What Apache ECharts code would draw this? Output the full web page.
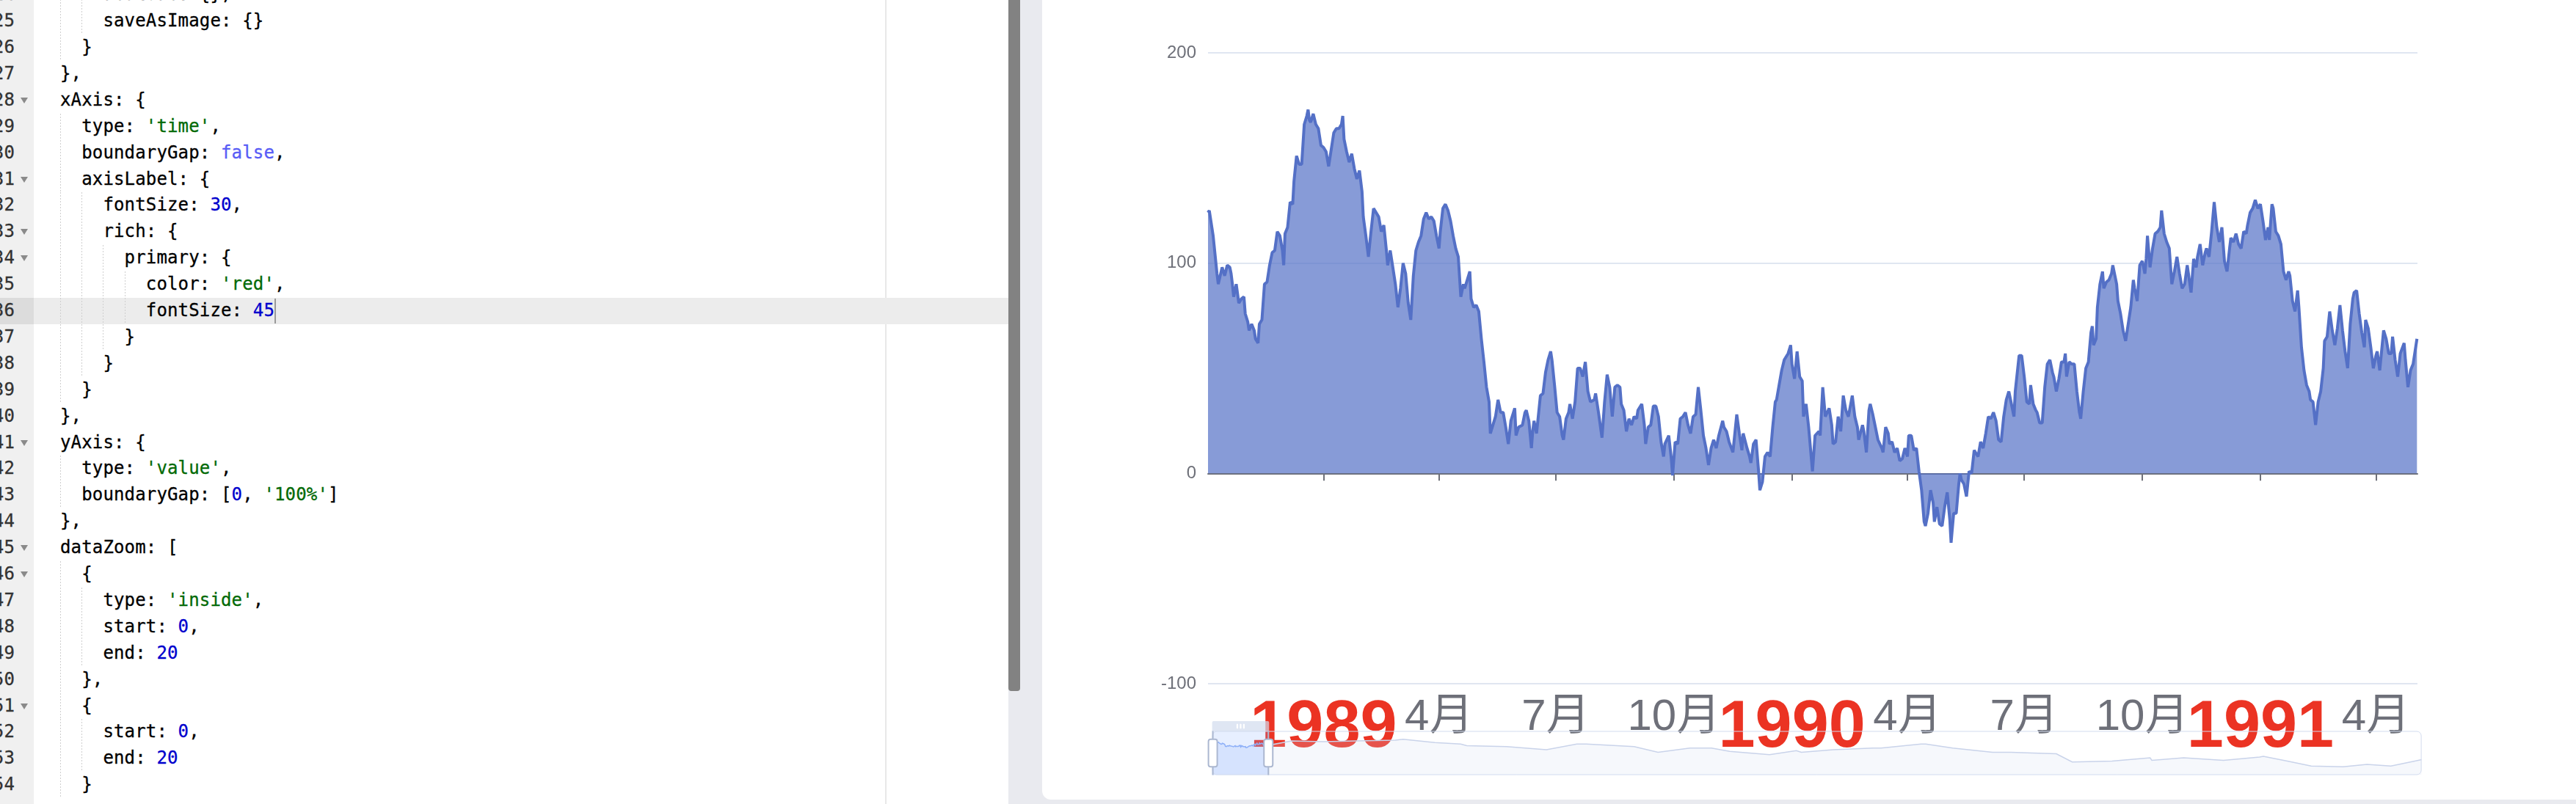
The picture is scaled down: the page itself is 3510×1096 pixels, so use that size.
<!DOCTYPE html>
<html lang="zh">
<head>
<meta charset="utf-8">
<title>area time axis</title>
<script src="https://cdn.jsdelivr.net/npm/echarts@6/dist/echarts.min.js"></script>
<style>
  html, body { margin: 0; padding: 0; }
  body { width: 3510px; height: 1096px; overflow: hidden; position: relative; background: #e9eaef; }
  #editor { position: absolute; left: 0; top: 0; width: 1374px; height: 1096px; background: #fff; overflow: hidden; }
  #gutter { position: absolute; left: 0; top: 0; width: 46px; height: 1096px; background: #f0f0f0; overflow: hidden; }
  #printMargin { position: absolute; left: 1206px; top: 0; width: 2px; height: 1096px; background: #e8e8e8; }
  #activeRow { position: absolute; left: 46px; width: 1328px; height: 36px; background: #ececec; }
  #activeGutter { position: absolute; left: 0; width: 46px; height: 36px; background: #dcdcdc; }
  .num-cell { position: absolute; right: 26px; width: 80px; text-align: right; font: 24px 'DejaVu Sans Mono', monospace; letter-spacing: 0.15px; color: #333; -webkit-text-stroke: 0.3px #333; }
  .fold { position: absolute; left: 28px; width: 0; height: 0; border-left: 5px solid transparent; border-right: 5px solid transparent; border-top: 8px solid #8a8a8a; }
  #code { position: absolute; left: 52.8px; top: 0; font: 24px 'DejaVu Sans Mono', monospace; letter-spacing: 0.15px; }
  .line { position: absolute; left: 0; white-space: pre; color: #000; -webkit-text-stroke: 0.3px currentColor; }
  .guide { position: absolute; width: 1px; background: repeating-linear-gradient(to bottom, #cfcfcf 0 2px, transparent 2px 4px); }
  .str { color: rgb(3, 106, 7); }
  .num { color: rgb(0, 0, 205); }
  .bool { color: rgb(88, 92, 246); }
  #cursor { position: absolute; width: 2px; height: 34px; background: #9a9a9a; }
  #scrollThumb { position: absolute; left: 1374px; top: -10px; width: 16px; height: 952px; background: #828282; border-radius: 0 0 4px 4px; }
  #card { position: absolute; left: 1420px; top: -20px; width: 2110px; height: 1110px; background: #fff; border-radius: 12px; }
  #chart { position: absolute; left: 1420px; top: 0; width: 2090px; height: 1090px; }
</style>
</head>
<body>
<div id="editor">
  <div id="gutter"></div>
  <div id="printMargin"></div>
  <div id="code"></div>
</div>
<div id="scrollThumb"></div>
<div id="card"></div>
<div id="chart"></div>
<script>
// ---- editor text ----
const codeLines = [
  "      restore: {},",
  "      saveAsImage: {}",
  "    }",
  "  },",
  "  xAxis: {",
  "    type: 'time',",
  "    boundaryGap: false,",
  "    axisLabel: {",
  "      fontSize: 30,",
  "      rich: {",
  "        primary: {",
  "          color: 'red',",
  "          fontSize: 45",
  "        }",
  "      }",
  "    }",
  "  },",
  "  yAxis: {",
  "    type: 'value',",
  "    boundaryGap: [0, '100%']",
  "  },",
  "  dataZoom: [",
  "    {",
  "      type: 'inside',",
  "      start: 0,",
  "      end: 20",
  "    },",
  "    {",
  "      start: 0,",
  "      end: 20",
  "    }"
];
const firstLineNo = 24;
const foldLines = [28, 31, 33, 34, 41, 45, 46, 51];
const activeLine = 36;

const lineH = 35.9;
const lineTop0 = -24.8;
const charW = 14.6;

function highlight(text) {
  return text.replace(/('[^']*')|(\b\d+\b)|(\bfalse\b)/g, function (m, s, n, b) {
    if (s) return '<span class="str">' + s + '</span>';
    if (n) return '<span class="num">' + n + '</span>';
    return '<span class="bool">' + b + '</span>';
  });
}

const editor = document.getElementById('editor');
const gutter = document.getElementById('gutter');
const code = document.getElementById('code');

// active line highlight
const activeTop = lineTop0 + (activeLine - firstLineNo) * lineH;
const row = document.createElement('div');
row.id = 'activeRow';
row.style.top = activeTop + 'px';
editor.insertBefore(row, code);
const gRow = document.createElement('div');
gRow.id = 'activeGutter';
gRow.style.top = activeTop + 'px';
gutter.appendChild(gRow);

codeLines.forEach(function (text, i) {
  const no = firstLineNo + i;
  const top = lineTop0 + i * lineH;

  const cell = document.createElement('div');
  cell.className = 'num-cell';
  cell.style.top = top + 'px';
  cell.style.lineHeight = lineH + 'px';
  cell.textContent = no;
  gutter.appendChild(cell);

  if (foldLines.indexOf(no) > -1) {
    const f = document.createElement('div');
    f.className = 'fold';
    f.style.top = (top + 14) + 'px';
    gutter.appendChild(f);
  }

  // indent guides
  const indent = text.length - text.replace(/^ +/, '').length;
  for (let col = 2; col <= indent - 2; col += 2) {
    const g = document.createElement('div');
    g.className = 'guide';
    g.style.left = (col * charW) + 'px';
    g.style.top = top + 'px';
    g.style.height = lineH + 'px';
    code.appendChild(g);
  }

  const line = document.createElement('div');
  line.className = 'line';
  line.style.top = top + 'px';
  line.style.lineHeight = lineH + 'px';
  line.innerHTML = highlight(text);
  code.appendChild(line);

  if (no === activeLine) {
    const c = document.createElement('div');
    c.id = 'cursor';
    c.style.left = (text.length * charW) + 'px';
    c.style.top = (top + 1) + 'px';
    code.appendChild(c);
  }
});

// ---- chart data ----
// day offsets from 1988-10-03 and values, read from the zoomed-in area
const viewDays = [
  0, 1, 4, 7, 8, 11, 13, 15, 17, 18, 19, 20, 22, 24, 26, 28, 29, 31, 32, 34, 36, 37, 39, 40, 42, 44, 46, 48, 50, 52,
  54, 56, 58, 59, 60, 62, 64, 66, 67, 69, 71, 73, 75, 77, 78, 79, 80, 82, 84, 86, 88, 90, 92, 94, 95, 98, 100, 102, 104, 105,
  106, 108, 110, 112, 114, 116, 118, 120, 121, 123, 125, 127, 129, 131, 133, 135, 137, 139, 140, 142, 144, 146, 148, 150, 152, 154,
  156, 158, 160, 162, 164, 166, 168, 170, 172, 174, 176, 178, 180, 181, 183, 185, 187, 189, 191, 193, 195, 197, 199, 200, 202, 204,
  205, 207, 209, 211, 213, 215, 217, 219, 220, 222, 224, 226, 228, 230, 232, 234, 236,
  239, 240, 242, 245, 247, 248, 250, 252, 253, 254, 256, 257, 259, 261, 263, 265, 267, 268, 270, 272, 274, 276, 277, 279, 281, 282,
  284, 286, 288, 290, 292, 294, 296, 298, 301, 302, 304, 307, 309, 311, 313, 315, 317, 319, 321, 322, 324, 326, 328, 330, 332, 334,
  335, 338, 340, 341, 343, 345, 347, 349, 351, 353, 355, 356, 359, 361, 362, 364, 366, 368, 370, 372, 374, 376, 378, 380, 382, 384,
  386, 388, 390, 392, 394, 396, 398, 401, 402, 404, 406, 409, 412, 414, 416, 417, 420, 422, 423, 425, 427, 429, 430, 432, 434, 436,
  438, 440, 442, 443, 445, 447, 449, 452, 454, 455, 457, 459, 461, 463, 464, 466, 468, 471, 473, 476,
  477, 479, 481, 484, 486, 487, 489, 491, 493, 495, 497, 499, 502, 504, 506, 507, 510, 511, 513, 515, 516, 518, 520, 522, 525, 526,
  528, 530, 531, 533, 535, 537, 539, 541, 543, 545, 546, 548, 550, 552, 554, 556, 558, 559, 561, 563, 565, 566, 568, 570, 572, 574,
  576, 578, 579, 581, 583, 585, 586, 587, 589, 591, 593, 595, 597, 598, 600, 602, 604, 606, 608, 610, 612, 614, 616, 618, 620, 622,
  624, 626, 628, 629, 632, 634, 636, 638, 640, 641, 643, 645, 646, 648, 650, 652, 654, 656, 658, 659, 661, 663, 665, 667, 668, 669,
  671, 673, 675, 677, 679, 680, 682, 684, 686, 688, 689, 690, 692, 693, 695, 697, 698, 700, 702, 704, 705, 708, 709, 711, 713, 715, 717,
  719, 721, 722, 724, 726, 728, 730, 731, 732, 734, 736, 738, 740, 742, 743, 745, 747, 749, 751, 753, 755, 757, 759, 761, 763, 766,
  768, 770, 771, 773, 775, 777, 778, 780, 782, 784, 786, 788, 790, 792, 794, 796, 797, 799, 801, 803, 805, 807, 809, 810, 812, 814,
  816, 818, 820, 822, 824, 826, 827, 829, 830, 832, 834, 836, 838, 840, 842, 843, 845, 847, 849, 850, 852, 854, 856, 858, 859, 861,
  863, 865, 867, 869, 870, 872, 874, 876, 878, 880, 882, 884, 886, 888, 890, 892, 893, 895, 897, 899, 901, 902, 904, 906, 908, 910,
  911, 913, 916, 918, 920, 922, 923, 925, 927, 929, 932, 933, 935, 937, 939, 942
];
const viewValues = [
  124, 125, 113, 95, 90, 98, 94, 99, 98, 95, 90, 84, 90, 81, 83, 84, 76, 72, 68, 71, 68, 64, 62, 71, 73, 90, 91, 99, 105, 106,
  115, 113, 106, 99, 114, 117, 129, 128, 139, 151, 147, 147, 166, 170, 173, 168, 167, 171, 166, 164, 156, 155, 153, 146, 146, 162, 164, 164, 166, 170,
  159, 153, 148, 152, 145, 140, 144, 134, 122, 113, 103, 115, 126, 124, 122, 115, 118, 106, 99, 106, 98, 90, 79, 88, 100, 95,
  81, 73, 94, 106, 110, 113, 121, 124, 121, 122, 120, 113, 107, 115, 126, 128, 125, 120, 113, 107, 103, 84, 90, 88, 92, 96,
  83, 79, 80, 77, 64, 53, 41, 34, 19, 23, 27, 35, 29, 29, 22, 14, 25,
  31, 18, 22, 23, 29, 30, 25, 12, 20, 25, 19, 19, 37, 38, 48, 54, 58, 54, 42, 29, 27, 18, 16, 26, 29, 33,
  26, 34, 50, 50, 46, 53, 39, 34, 35, 38, 30, 17, 34, 47, 41, 27, 41, 42, 41, 33, 30, 20, 26, 23, 27, 26,
  30, 33, 23, 14, 22, 23, 32, 32, 27, 15, 8, 14, 18, 7, -1, 15, 14, 26, 27, 29, 23, 19, 27, 28, 41, 30,
  18, 12, 4, 12, 16, 12, 18, 25, 22, 20, 15, 10, 28, 19, 11, 19, 12, 8, 5, 14, 16, 1, -8, -4, 8, 10,
  8, 22, 34, 35, 42, 49, 54, 57, 61, 52, 45, 58, 46, 44, 27, 33, 22, 1, 18, 20,
  18, 41, 27, 31, 23, 14, 15, 27, 20, 37, 30, 27, 37, 27, 22, 16, 23, 20, 10, 30, 33, 28, 22, 16, 12, 10,
  22, 19, 14, 15, 10, 12, 6, 7, 12, 8, 18, 18, 11, 12, 1, -8, -23, -25, -19, -8, -14, -23, -16, -24, -25, -16,
  -9, -22, -33, -19, -19, -5, 0, -3, -5, -11, 1, 0, 11, 10, 8, 15, 12, 19, 27, 26, 29, 25, 16, 15, 27, 35,
  39, 33, 27, 39, 56, 56, 46, 34, 33, 42, 33, 30, 29, 24, 24, 41, 52, 54, 48, 46, 39, 45, 53, 53, 57, 46,
  53, 52, 52, 39, 29, 26, 39, 50, 53, 67, 70, 61, 64, 79, 90, 96, 88, 91, 92, 95, 99, 90, 82, 76, 68, 63, 71,
  79, 92, 88, 82, 99, 101, 95, 102, 113, 98, 107, 114, 115, 117, 125, 114, 110, 107, 90, 96, 103, 95, 88, 90, 99, 86,
  102, 98, 103, 109, 99, 105, 107, 103, 115, 129, 117, 110, 117, 101, 96, 107, 112, 110, 114, 109, 107, 115, 114, 118, 124, 126,
  130, 126, 128, 120, 111, 117, 111, 128, 126, 115, 113, 109, 96, 92, 96, 94, 82, 77, 87, 79, 60, 49, 42, 39, 35, 34,
  23, 34, 39, 50, 63, 65, 77, 68, 61, 69, 80, 68, 58, 50, 71, 83, 86, 87, 76, 67, 60, 73, 69, 60, 50, 56,
  58, 49, 68, 64, 57, 57, 65, 54, 46, 57, 62, 54, 41, 49, 52, 64
];
// rest of the series, read coarsely from the slider's data shadow
const restDays = [
  1313, 1841, 2367, 3030, 3158, 3684, 4110, 4211, 4870, 5528, 6030, 6187, 6978, 7373, 7900, 8258, 8558, 9217, 9660, 9743,
  10270, 10930, 11061, 11720, 11800, 12246, 12905, 13210, 13563, 13959, 14222, 14880, 15510, 15539, 16066, 16724, 17320,
  17383, 17779, 18174, 18701, 19096, 19491, 19886, 19999
];
const restValues = [
  200, 173, 200, 220, 253, 146, 93, 40, 13, -94, 93, 93, 13, -174, -40, -40, -147, -254, -120, -174,
  -94, -40, -40, 93, 93, -40, -174, -174, -200, -227, -494, -467, -360, -440, -360, -440, -334,
  -307, -467, -627, -654, -574, -627, -467, -420
];
const yTicks = [-100, 0, 100, 200];

const baseDate = +new Date(1988, 9, 3);
const oneDay = 24 * 3600 * 1000;
const viewEndDay = 942.4;

const seriesData = viewDays.map(function (d, i) {
  return [baseDate + d * oneDay, viewValues[i]];
}).concat(restDays.map(function (d, i) {
  return [baseDate + d * oneDay, restValues[i]];
}));

const chart = echarts.init(document.getElementById('chart'), null, { locale: 'ZH', renderer: 'canvas' });
const labelFont = "'Liberation Sans', 'Noto Sans CJK SC', sans-serif";
const option = {
  animation: false,
  grid: { left: 226, top: 72, width: 1648, height: 860 },
  xAxis: {
    type: 'time',
    boundaryGap: false,
    axisLine: { lineStyle: { color: '#6E7079', width: 2 } },
    axisTick: { length: 10, lineStyle: { color: '#6E7079', width: 2 } },
    splitLine: { show: false },
    axisLabel: {
      fontSize: 60,
      color: '#6E7079',
      fontFamily: labelFont,
      margin: 16,
      rich: {
        primary: {
          color: '#eb3323',
          fontSize: 90,
          fontWeight: 'bold',
          fontFamily: labelFont
        }
      }
    }
  },
  yAxis: {
    type: 'value',
    min: yTicks[0],
    max: yTicks[yTicks.length - 1],
    interval: 100,
    axisLine: { show: false },
    axisTick: { show: false },
    axisLabel: { fontSize: 24, color: '#6E7079', margin: 16, fontFamily: labelFont },
    splitLine: { lineStyle: { color: '#E0E6F1', width: 2 } }
  },
  dataZoom: [
    {
      type: 'inside',
      startValue: baseDate,
      endValue: baseDate + viewEndDay * oneDay
    },
    {
      type: 'slider',
      startValue: baseDate,
      endValue: baseDate + viewEndDay * oneDay,
      left: 226,
      width: 1648,
      top: 983,
      height: 60,
      showDetail: false,
      borderColor: '#d2dbee',
      borderRadius: 6,
      backgroundColor: 'rgba(47,69,84,0)',
      fillerColor: 'rgba(135,175,274,0.2)',
      dataBackground: {
        lineStyle: { color: '#c9d3ea', width: 1.5 },
        areaStyle: { color: '#d2dbee', opacity: 0.2 }
      },
      selectedDataBackground: {
        lineStyle: { color: '#8fb0f7', width: 1.5 },
        areaStyle: { color: '#8fb0f7', opacity: 0.2 }
      },
      handleSize: '100%',
      handleStyle: { color: '#fff', borderColor: '#ACB8D1', borderWidth: 2 },
      moveHandleSize: 14,
      moveHandleStyle: { color: '#D2DBEE', opacity: 0.7 }
    }
  ],
  series: [
    {
      name: 'Fake Data',
      type: 'line',
      symbol: 'none',
      lineStyle: { color: '#5470c6', width: 4 },
      itemStyle: { color: '#5470c6' },
      areaStyle: { color: '#5470c6', opacity: 0.7 },
      data: seriesData
    }
  ]
};
chart.setOption(option);
</script>
</body>
</html>
